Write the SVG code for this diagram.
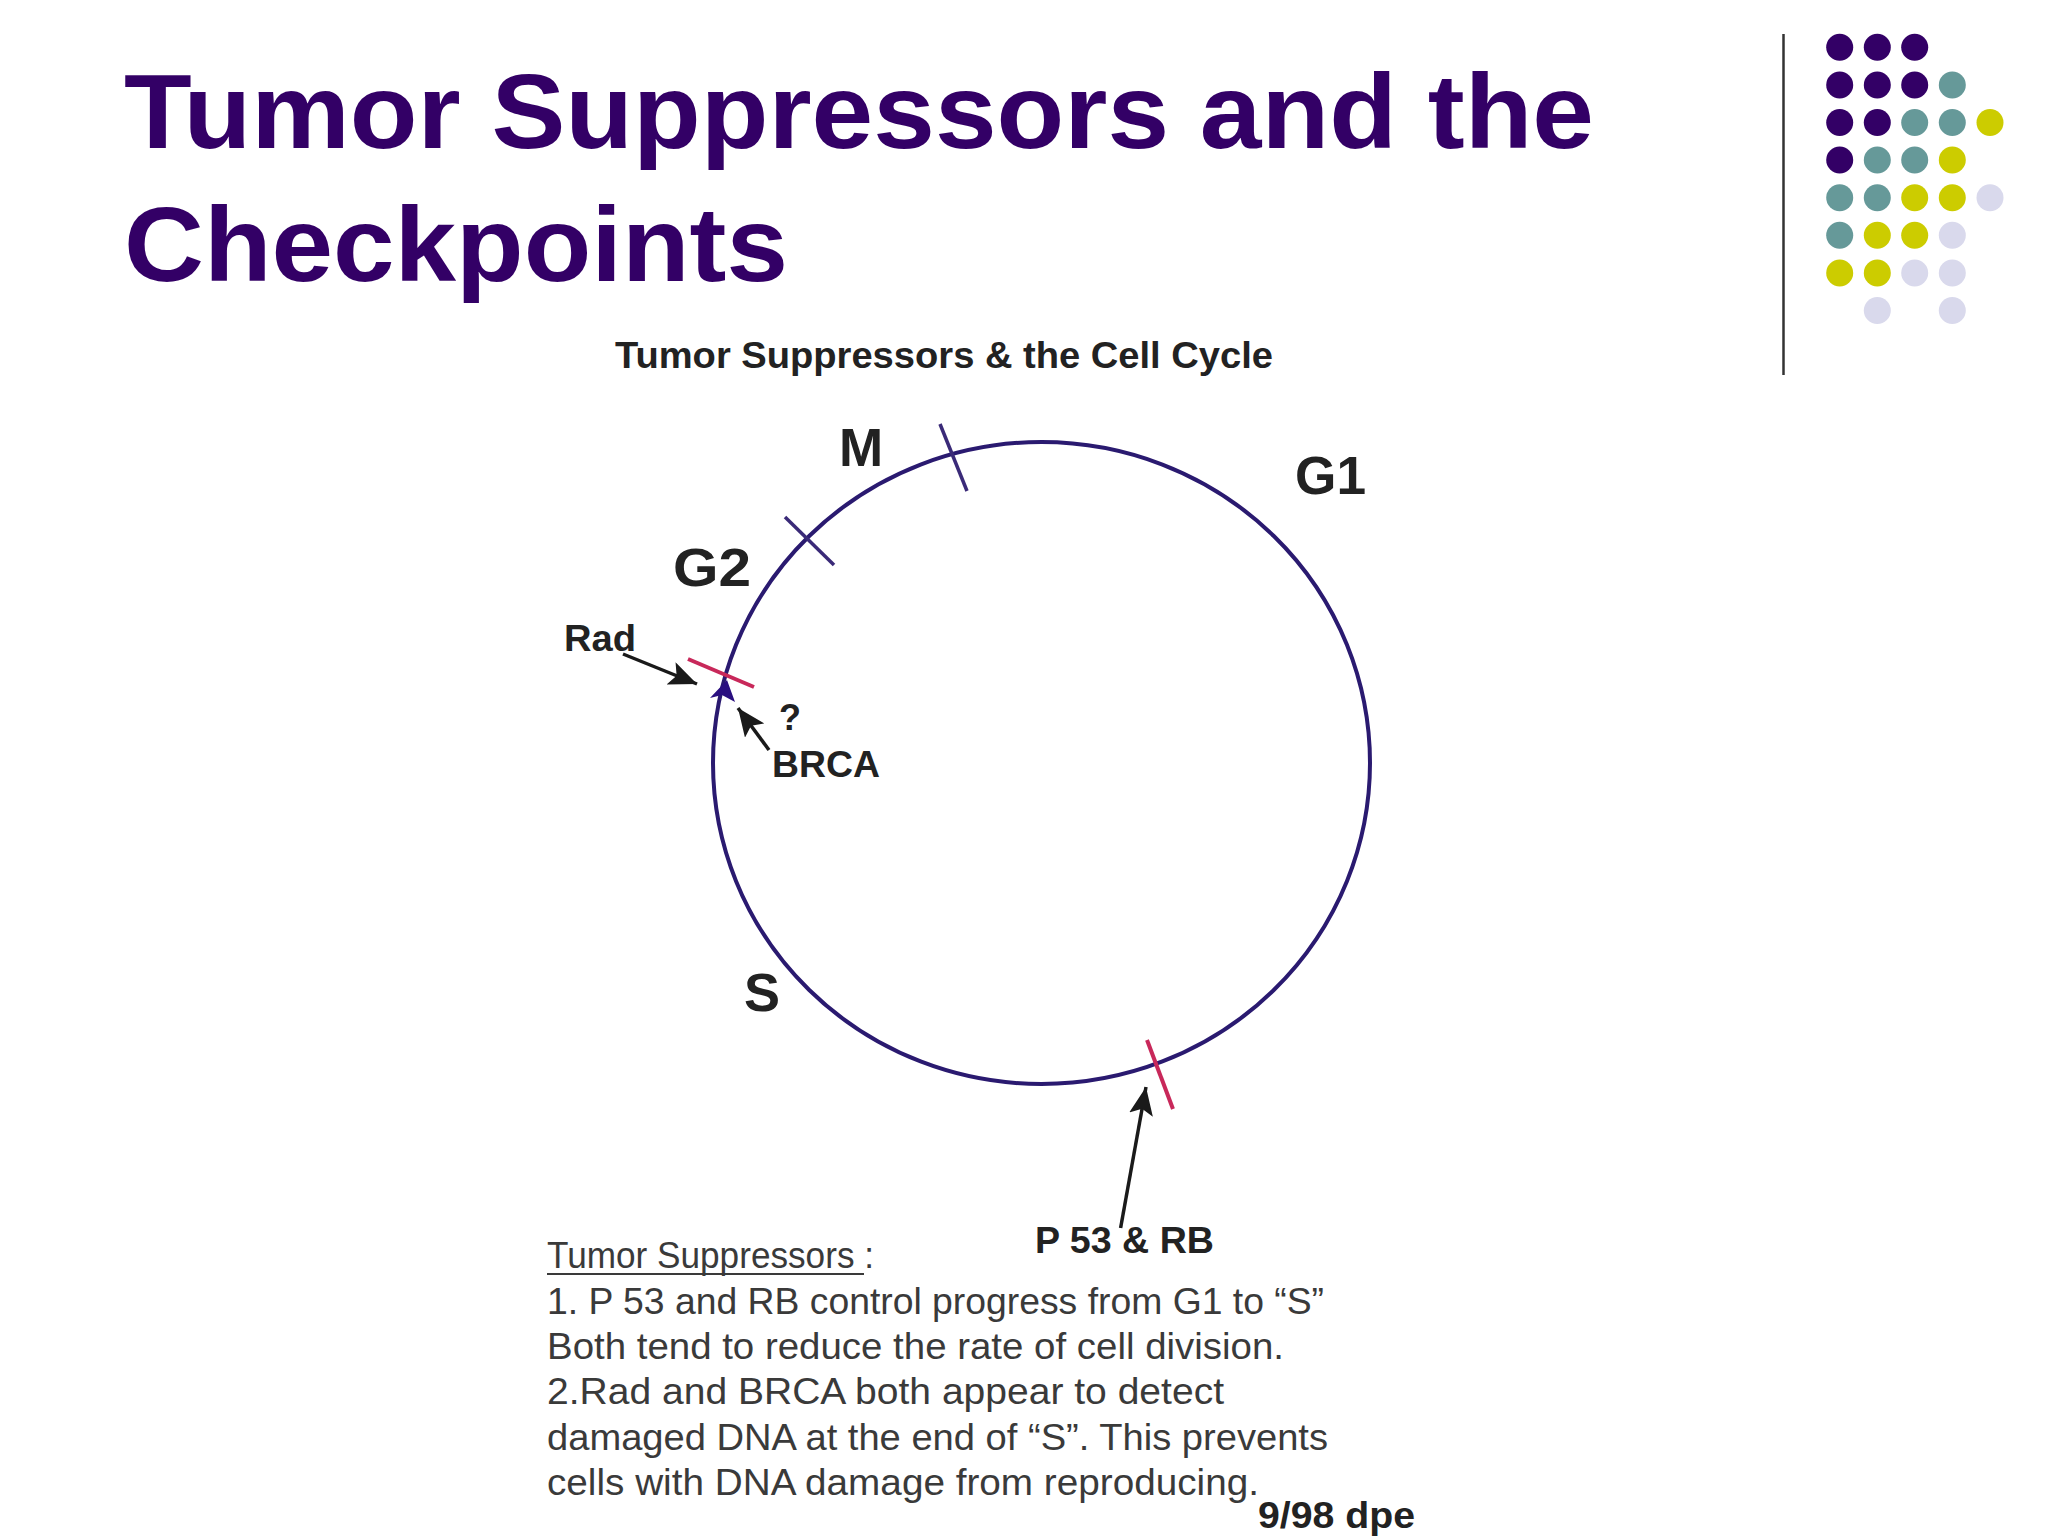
<svg xmlns="http://www.w3.org/2000/svg" width="2048" height="1536" viewBox="0 0 2048 1536">
<defs>
<marker id="blk" markerUnits="userSpaceOnUse" markerWidth="32" markerHeight="26" refX="28" refY="12" orient="auto"><path d="M0 0L28 12L0 24L6 12Z" fill="#1a1a1a"/></marker>
</defs>
<style>
text{font-family:"Liberation Sans",Arial,sans-serif}
.title{font-size:106px;font-weight:bold;fill:#330066}
.lab{font-weight:bold;fill:#222}
.big{font-size:53px}
.mid{font-size:36px}
.body{font-size:37px;fill:#3a3a3a}
.p{fill:#330066}.t{fill:#669999}.y{fill:#cccc00}.l{fill:#d9d9ec}
.ring{fill:none;stroke:#2a1a70;stroke-width:4}
.tick{stroke:#3a2a78;stroke-width:3.5;fill:none}
.red{stroke:#c8285a;stroke-width:4;fill:none}
.arr{stroke:#1a1a1a;stroke-width:3.5;fill:none;marker-end:url(#blk)}
</style>
<rect width="2048" height="1536" fill="#fff"/>
<g id="title">
<text class="title" x="124" y="148" textLength="1470" lengthAdjust="spacingAndGlyphs">Tumor Suppressors and the</text>
<text class="title" x="124" y="281" textLength="664" lengthAdjust="spacingAndGlyphs">Checkpoints</text>
</g>
<g id="decor">
<line x1="1783.5" y1="34" x2="1783.5" y2="375" stroke="#333" stroke-width="2.5"/>
<g class="p"><circle cx="1839.7" cy="47.3" r="13.5"/><circle cx="1877.3" cy="47.3" r="13.5"/><circle cx="1914.7" cy="47.3" r="13.5"/><circle cx="1839.7" cy="85" r="13.5"/><circle cx="1877.3" cy="85" r="13.5"/><circle cx="1914.7" cy="85" r="13.5"/><circle cx="1839.7" cy="122.5" r="13.5"/><circle cx="1877.3" cy="122.5" r="13.5"/><circle cx="1839.7" cy="160" r="13.5"/></g>
<g class="t"><circle cx="1952.3" cy="85" r="13.5"/><circle cx="1914.7" cy="122.5" r="13.5"/><circle cx="1952.3" cy="122.5" r="13.5"/><circle cx="1877.3" cy="160" r="13.5"/><circle cx="1914.7" cy="160" r="13.5"/><circle cx="1839.7" cy="197.7" r="13.5"/><circle cx="1877.3" cy="197.7" r="13.5"/><circle cx="1839.7" cy="235.3" r="13.5"/></g>
<g class="y"><circle cx="1990" cy="122.5" r="13.5"/><circle cx="1952.3" cy="160" r="13.5"/><circle cx="1914.7" cy="197.7" r="13.5"/><circle cx="1952.3" cy="197.7" r="13.5"/><circle cx="1877.3" cy="235.3" r="13.5"/><circle cx="1914.7" cy="235.3" r="13.5"/><circle cx="1839.7" cy="273" r="13.5"/><circle cx="1877.3" cy="273" r="13.5"/></g>
<g class="l"><circle cx="1990" cy="197.7" r="13.5"/><circle cx="1952.3" cy="235.3" r="13.5"/><circle cx="1914.7" cy="273" r="13.5"/><circle cx="1952.3" cy="273" r="13.5"/><circle cx="1877.3" cy="310.5" r="13.5"/><circle cx="1952.3" cy="310.5" r="13.5"/></g>
</g>
<text class="lab" x="615" y="368" font-size="36" textLength="658" lengthAdjust="spacingAndGlyphs">Tumor Suppressors &amp; the Cell Cycle</text>
<g id="cycle">
<ellipse class="ring" cx="1041.5" cy="763" rx="328.5" ry="321"/>
<path d="M727 680L710 698L722 695L735 702Z" fill="#2a0f80"/>
</g>
<g id="connectors">
<line class="tick" x1="940" y1="424" x2="967" y2="491"/>
<line class="tick" x1="785" y1="517" x2="834" y2="565"/>
<line class="red" x1="688" y1="659" x2="754" y2="687"/>
<line class="red" x1="1147" y1="1040" x2="1173" y2="1109"/>
<line class="arr" x1="623" y1="654" x2="697" y2="684"/>
<line class="arr" x1="769" y1="750" x2="738" y2="708"/>
<line class="arr" x1="1120.6" y1="1228" x2="1146" y2="1087"/>
</g>
<g id="label-m"><text class="lab big" x="839" y="466" font-size="53">M</text></g>
<g id="label-g1"><text class="lab big" x="1295" y="494" textLength="71" lengthAdjust="spacingAndGlyphs">G1</text></g>
<g id="label-g2"><text class="lab big" x="673" y="586" textLength="78" lengthAdjust="spacingAndGlyphs">G2</text></g>
<g id="label-s"><text class="lab big" x="744" y="1011" textLength="36" lengthAdjust="spacingAndGlyphs">S</text></g>
<g id="label-rad"><text class="lab mid" x="564" y="651" textLength="72" lengthAdjust="spacingAndGlyphs">Rad</text></g>
<g id="label-q"><text class="lab mid" x="779" y="730">?</text></g>
<g id="label-brca"><text class="lab mid" x="772" y="777" textLength="108" lengthAdjust="spacingAndGlyphs">BRCA</text></g>
<g id="label-p53"><text class="lab mid" x="1035" y="1253" textLength="179" lengthAdjust="spacingAndGlyphs">P 53 &amp; RB</text></g>
<g id="notes">
<text class="body" x="547" y="1268" textLength="327" lengthAdjust="spacingAndGlyphs">Tumor Suppressors :</text>
<line x1="547" y1="1274" x2="864" y2="1274" stroke="#3a3a3a" stroke-width="2"/>
<text class="body" x="547" y="1314" textLength="777" lengthAdjust="spacingAndGlyphs">1. P 53 and RB control progress from G1 to “S”</text>
<text class="body" x="547" y="1359" textLength="737" lengthAdjust="spacingAndGlyphs">Both tend to reduce the rate of cell division.</text>
<text class="body" x="547" y="1404" textLength="677" lengthAdjust="spacingAndGlyphs">2.Rad and BRCA both appear to detect</text>
<text class="body" x="547" y="1450" textLength="781" lengthAdjust="spacingAndGlyphs">damaged DNA at the end of “S”. This prevents</text>
<text class="body" x="547" y="1495" textLength="712" lengthAdjust="spacingAndGlyphs">cells with DNA damage from reproducing.</text>
</g>
<g id="label-dpe"><text class="lab mid" x="1258" y="1528" textLength="157" lengthAdjust="spacingAndGlyphs">9/98 dpe</text></g>
</svg>
